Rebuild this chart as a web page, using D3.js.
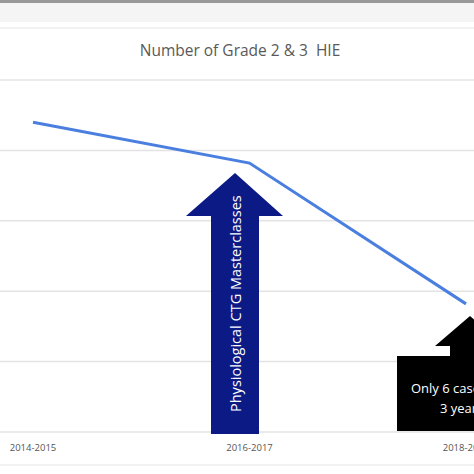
<!DOCTYPE html><html><head><script src="https://d3js.org/d3.v7.min.js"></script>
<style>body{margin:0;background:#fff}</style></head><body><svg width="474" height="474"></svg>
<script>
const categories=["2014-2015","2016-2017","2018-2019"];
const values=[22,19.1,9.1];
const yTicks=[0,5,10,15,20,25];
const title="Number of Grade 2 & 3\u00a0 HIE";
const svg=d3.select("svg");
svg.append("rect").attr("width",474).attr("height",3).attr("fill","#999");
svg.append("rect").attr("y",3).attr("width",474).attr("height",19).attr("fill","#f5f5f5");
svg.append("line").attr("x1",0).attr("x2",474).attr("y1",28).attr("y2",28).attr("stroke","#e6e6e6");
svg.append("text").attr("x",240).attr("y",56).attr("text-anchor","middle").attr("font-family","Open Sans, sans-serif").attr("font-size",15.5).attr("fill","#595959").text(title);
const x=d3.scalePoint().domain(categories).range([33,466]);
const y=d3.scaleLinear().domain([0,25]).range([432,80]);
svg.selectAll(".g").data(yTicks).join("line").attr("x1",0).attr("x2",474).attr("y1",d=>y(d)).attr("y2",d=>y(d)).attr("stroke","#e3e3e3").attr("stroke-width",1.5);
svg.append("line").attr("x1",0).attr("x2",474).attr("y1",465).attr("y2",465).attr("stroke","#eee").attr("stroke-width",1.5);
svg.append("path").datum(values).attr("fill","none").attr("stroke","#4a7fe0").attr("stroke-width",3)
 .attr("d",d3.line().x((d,i)=>x(categories[i])).y(d=>y(d)));
svg.selectAll(".c").data(categories).join("text").attr("x",d=>x(d)).attr("y",451).attr("text-anchor","middle").attr("font-family","Open Sans, sans-serif").attr("font-size",9.5).attr("fill","#555").text(d=>d);
svg.append("path").attr("d","M211,434 L211,216 L186,216 L235,173 L283,216 L259,216 L259,434 Z").attr("fill","#0c1a86");
svg.append("text").attr("transform","translate(241,412) rotate(-90)").attr("font-family","Open Sans, sans-serif").attr("font-size",14.5).attr("fill","#fff").text("Physiological CTG Masterclasses");
svg.append("path").attr("d","M397,431 L397,356 L450,356 L450,346 L435,346 L470,316 L505,346 L490,346 L490,431 Z").attr("fill","#000");
svg.append("text").attr("x",411).attr("y",393).attr("font-family","Open Sans, sans-serif").attr("font-size",13).attr("fill","#fff").text("Only 6 cases in");
svg.append("text").attr("x",440).attr("y",413).attr("font-family","Open Sans, sans-serif").attr("font-size",13).attr("fill","#fff").text("3 years");
</script></body></html>
